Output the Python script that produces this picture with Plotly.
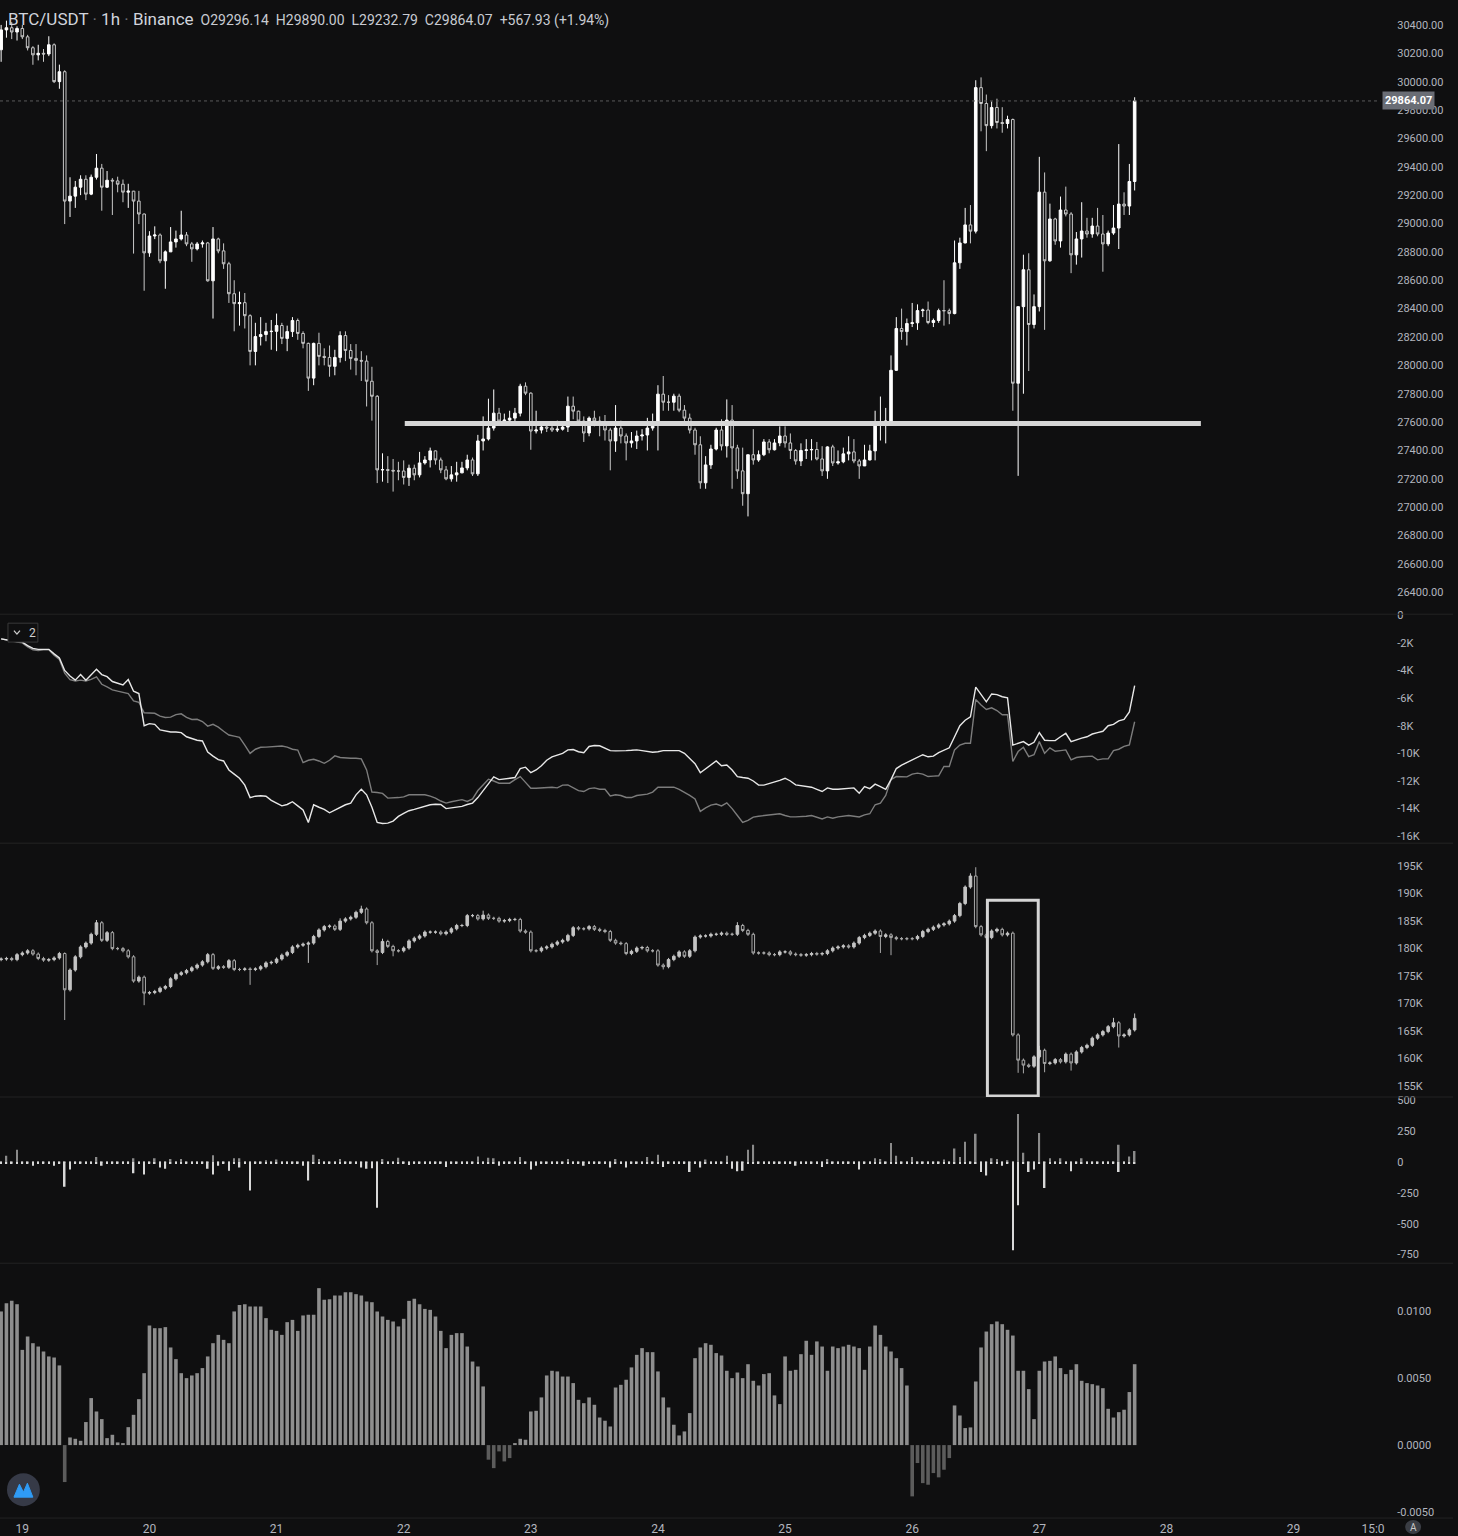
import pandas as pd
import plotly.graph_objects as go

# ---------------- data (hourly, BTC/USDT Binance, 2023-03-18 20:00 .. 2023-03-27 18:00) ----------------
start_time = "2023-03-18 20:00"
n_candles = 215
first_open = 30225

price_close = [
 30365, 30380, 30350, 30375, 30316, 30239, 30189, 30200, 30195, 30260,
 30000, 30070, 29158, 29193, 29256, 29312, 29207, 29326, 29390, 29256,
 29305, 29300, 29277, 29221, 29228, 29158, 29067, 28793, 28912, 28919,
 28737, 28800, 28870, 28891, 28919, 28856, 28821, 28856, 28863, 28596,
 28891, 28807, 28716, 28505, 28435, 28442, 28350, 28098, 28203, 28217,
 28238, 28240, 28281, 28190, 28238, 28316, 28225, 28155, 27910, 28155,
 28063, 28056, 27993, 28056, 28210, 28105, 28049, 28035, 28030, 27888,
 27782, 27263, 27265, 27260, 27255, 27255, 27210, 27275, 27228, 27312,
 27333, 27397, 27333, 27263, 27200, 27228, 27242, 27277, 27333, 27235,
 27467, 27481, 27558, 27663, 27607, 27614, 27628, 27663, 27853, 27804,
 27537, 27544, 27565, 27558, 27544, 27550, 27565, 27712, 27677, 27607,
 27523, 27628, 27607, 27593, 27544, 27467, 27558, 27502, 27453, 27467,
 27502, 27509, 27558, 27593, 27797, 27740, 27740, 27783, 27684, 27628,
 27544, 27440, 27172, 27298, 27410, 27544, 27432, 27614, 27418, 27256,
 27095, 27370, 27333, 27370, 27460, 27405, 27453, 27502, 27453, 27400,
 27326, 27400, 27404, 27407, 27340, 27256, 27425, 27312, 27320, 27376,
 27390, 27326, 27291, 27333, 27397, 27593, 27600, 27607, 27965, 28260,
 28238, 28295, 28300, 28386, 28390, 28302, 28316, 28386, 28385, 28365,
 28723, 28863, 28990, 28946, 29958, 29846, 29690, 29818, 29712, 29705,
 29733, 27874, 28414, 28674, 28288, 28414, 29221, 28737, 29032, 28877,
 29095, 29067, 28779, 28891, 28947, 28926, 28982, 28926, 28856, 28933,
 28968, 29137, 29123, 29296.14, 29864.07]

price_high = [
 30400, 30430, 30420, 30390, 30400, 30330, 30250, 30260, 30230, 30320,
 30270, 30120, 30080, 29326, 29300, 29340, 29340, 29345, 29490, 29420,
 29370, 29320, 29330, 29310, 29280, 29230, 29230, 29070, 28946, 28980,
 28930, 28810, 28975, 28950, 29090, 28940, 28870, 28870, 28880, 28870,
 28975, 28900, 28860, 28730, 28600, 28520, 28510, 28360, 28300, 28340,
 28300, 28320, 28365, 28300, 28280, 28340, 28330, 28240, 28160, 28160,
 28230, 28120, 28140, 28110, 28240, 28240, 28150, 28150, 28100, 28070,
 27990, 27790, 27380, 27360, 27340, 27320, 27330, 27300, 27300, 27390,
 27360, 27420, 27400, 27350, 27290, 27290, 27320, 27320, 27370, 27350,
 27510, 27640, 27765, 27830, 27700, 27660, 27680, 27700, 27870, 27880,
 27810, 27680, 27600, 27600, 27600, 27610, 27600, 27780, 27780, 27680,
 27640, 27640, 27680, 27640, 27650, 27560, 27720, 27610, 27520, 27530,
 27540, 27550, 27630, 27660, 27860, 27925, 27790, 27800, 27800, 27720,
 27660, 27560, 27500, 27360, 27440, 27560, 27620, 27760, 27720, 27440,
 27420, 27370, 27550, 27400, 27480, 27480, 27480, 27570, 27570, 27520,
 27410, 27450, 27480, 27480, 27460, 27430, 27430, 27440, 27400, 27420,
 27500, 27480, 27340, 27440, 27440, 27680, 27780, 27700, 28070, 28340,
 28400, 28330, 28440, 28430, 28400, 28450, 28330, 28400, 28600, 28400,
 28880, 28900, 29110, 29130, 30010, 30030, 29909, 29860, 29880, 29820,
 29760, 29740, 28414, 28780, 28790, 28500, 29470, 29360, 29140, 29040,
 29190, 29260, 29080, 28940, 29150, 29040, 29040, 29110, 29060, 28950,
 29130, 29560, 29220, 29420, 29890]

price_low = [
 30140, 30310, 30300, 30290, 30300, 30220, 30119, 30150, 30140, 30180,
 29990, 29950, 28996, 29046, 29110, 29200, 29165, 29200, 29310, 29090,
 29250, 29060, 29220, 29150, 29110, 28788, 28996, 28526, 28765, 28890,
 28720, 28540, 28800, 28830, 28880, 28840, 28730, 28810, 28830, 28590,
 28330, 28790, 28680, 28440, 28240, 28280, 28260, 28000, 28000, 28140,
 28170, 28110, 28100, 28150, 28100, 28200, 28180, 28120, 27820, 27860,
 28000, 28000, 27920, 27930, 28020, 28030, 27970, 27930, 27890, 27710,
 27610, 27170, 27180, 27170, 27110, 27190, 27160, 27150, 27190, 27210,
 27300, 27280, 27300, 27240, 27190, 27180, 27180, 27240, 27260, 27220,
 27220, 27400, 27470, 27540, 27580, 27580, 27600, 27580, 27640, 27790,
 27405, 27520, 27520, 27530, 27530, 27530, 27540, 27530, 27620, 27590,
 27460, 27500, 27570, 27500, 27470, 27260, 27390, 27450, 27330, 27420,
 27410, 27470, 27400, 27540, 27400, 27680, 27680, 27680, 27670, 27600,
 27520, 27370, 27130, 27130, 27270, 27400, 27400, 27350, 27130, 27200,
 27010, 26935, 27300, 27320, 27360, 27380, 27400, 27430, 27420, 27340,
 27300, 27290, 27340, 27330, 27330, 27220, 27200, 27290, 27300, 27310,
 27330, 27310, 27200, 27290, 27330, 27330, 27470, 27450, 27590, 27960,
 28180, 28140, 28270, 28250, 28340, 28290, 28270, 28300, 28280, 28290,
 28360, 28680, 28860, 28860, 28930, 29650, 29510, 29670, 29670, 29640,
 29670, 27680, 27221, 27800, 27960, 28260, 28380, 28250, 28730, 28850,
 28830, 29050, 28650, 28710, 28760, 28900, 28900, 28910, 28660, 28840,
 28920, 28820, 29060, 29060, 29232.79]

# cumulative volume delta, thousands (two venues)
cvd_white_k = [
 -1.71, -1.8, -1.85, -1.9, -1.95, -2.2, -2.4, -2.47, -2.47, -2.47,
 -2.8, -3.1, -4.0, -4.4, -4.7, -4.3, -4.7, -4.3, -3.92, -4.3,
 -4.45, -4.8, -4.9, -5.05, -4.66, -5.5, -5.67, -8.0, -7.85, -7.9,
 -8.3, -8.4, -8.45, -8.45, -8.5, -8.8, -8.95, -9.05, -9.1, -9.9,
 -10.2, -10.45, -10.55, -11.2, -11.5, -11.8, -12.3, -13.2, -13.1, -13.07,
 -13.1, -13.4, -13.6, -13.8, -13.7, -13.5, -13.8, -14.1, -15.0, -13.72,
 -13.9, -14.05, -14.3, -14.1, -13.9, -13.72, -13.6, -13.0, -12.6, -13.0,
 -13.9, -15.0, -15.08, -15.05, -14.9, -14.56, -14.35, -14.15, -14.05, -13.95,
 -13.85, -13.72, -13.68, -13.7, -14.0, -13.95, -13.9, -13.84, -13.7, -13.6,
 -13.2, -12.7, -12.2, -11.7, -11.9, -11.85, -11.8, -11.75, -11.1, -11.0,
 -11.4, -11.2, -10.9, -10.5, -10.25, -10.15, -10.0, -9.75, -9.72, -9.88,
 -9.95, -9.5, -9.43, -9.45, -9.6, -9.8, -9.82, -9.83, -9.8, -9.78,
 -9.75, -9.8, -9.85, -9.92, -9.88, -9.8, -9.8, -9.82, -9.8, -10.0,
 -10.4, -10.75, -11.4, -11.1, -10.8, -10.55, -10.9, -10.85, -11.2, -11.68,
 -11.75, -11.8, -12.0, -12.3, -12.3, -12.2, -12.1, -11.95, -11.8, -12.0,
 -12.28, -12.35, -12.4, -12.45, -12.6, -12.76, -12.5, -12.6, -12.6, -12.55,
 -12.5, -12.5, -12.88, -12.4, -12.55, -12.23, -12.4, -12.6, -11.9, -11.1,
 -10.85, -10.65, -10.5, -10.3, -10.1, -10.25, -10.2, -9.95, -9.75, -9.6,
 -8.8, -8.0, -7.6, -7.35, -5.2, -5.7, -6.27, -5.7, -5.75, -5.9,
 -5.98, -9.4, -9.3, -9.15, -9.4, -9.2, -8.5, -9.05, -9.08, -9.08,
 -8.8, -8.55, -9.15, -9.0, -8.9, -8.8, -8.6, -8.5, -8.4, -8.0,
 -7.9, -7.65, -7.55, -7.0, -5.1]

cvd_gray_k = [
 -1.71, -1.8, -1.9, -1.95, -2.0, -2.3, -2.5, -2.55, -2.5, -2.5,
 -2.9, -3.2, -4.2, -4.66, -4.76, -4.7, -4.76, -4.65, -4.47, -5.0,
 -5.19, -5.4, -5.5, -5.6, -5.67, -6.2, -6.3, -7.06, -7.08, -7.1,
 -7.3, -7.4, -7.38, -7.2, -7.14, -7.4, -7.55, -7.53, -7.7, -8.03,
 -7.9, -8.1, -8.4, -8.67, -8.75, -8.84, -9.4, -10.0, -9.7, -9.56,
 -9.55, -9.52, -9.5, -9.47, -9.55, -9.7, -9.76, -10.67, -10.5, -10.43,
 -10.55, -10.72, -10.5, -10.18, -10.3, -10.35, -10.35, -10.35, -10.4, -11.2,
 -12.8, -12.83, -12.9, -13.24, -13.24, -13.2, -13.15, -13.0, -13.0, -13.0,
 -13.0, -13.1, -13.24, -13.45, -13.6, -13.5, -13.4, -13.35, -13.48, -13.3,
 -12.69, -12.3, -11.87, -12.0, -12.16, -12.16, -12.16, -11.9, -11.68, -12.1,
 -12.52, -12.52, -12.5, -12.45, -12.45, -12.5, -12.3, -12.28, -12.5, -12.7,
 -12.76, -12.55, -12.5, -12.6, -12.6, -13.09, -13.0, -13.05, -13.19, -13.2,
 -13.05, -13.0, -12.95, -12.8, -12.45, -12.45, -12.45, -12.45, -12.6, -12.8,
 -13.04, -13.3, -14.2, -13.95, -13.75, -13.67, -13.8, -13.58, -14.0, -14.5,
 -15.0, -14.85, -14.61, -14.55, -14.5, -14.45, -14.4, -14.37, -14.5, -14.6,
 -14.6, -14.6, -14.55, -14.5, -14.6, -14.75, -14.6, -14.7, -14.6, -14.55,
 -14.5, -14.55, -14.6, -14.45, -14.37, -13.72, -13.6, -13.04, -11.9, -11.68,
 -11.68, -11.7, -11.5, -11.43, -11.5, -11.68, -11.65, -11.62, -10.95, -10.95,
 -9.75, -9.4, -9.27, -9.27, -6.1, -6.5, -6.82, -6.7, -6.9, -7.2,
 -7.2, -10.59, -9.87, -9.56, -10.23, -10.1, -9.15, -9.99, -9.6, -9.85,
 -9.8, -9.75, -10.47, -10.3, -10.25, -10.2, -10.2, -10.47, -10.4, -10.4,
 -9.8, -9.7, -9.5, -9.39, -7.71]

# open interest, thousands
oi_first_open = 178.0
oi_close_k = [
 178.1, 178.2, 178.0, 178.9, 179.2, 179.6, 179.0, 178.2, 177.9, 178.0,
 178.3, 179.1, 172.5, 176.1, 178.5, 180.3, 181.0, 182.6, 184.7, 181.5,
 182.9, 180.0, 180.0, 179.6, 178.5, 174.1, 174.8, 171.9, 172.0, 172.2,
 172.8, 173.1, 174.5, 175.3, 175.6, 176.0, 176.5, 177.0, 177.6, 178.9,
 176.4, 176.7, 176.6, 177.8, 176.2, 176.2, 176.3, 176.2, 176.3, 176.7,
 177.4, 177.5, 178.1, 178.8, 179.3, 180.3, 180.6, 180.8, 181.0, 182.2,
 183.4, 184.0, 184.1, 183.5, 185.0, 185.4, 185.7, 186.6, 187.2, 184.7,
 179.6, 179.3, 181.3, 180.4, 179.6, 179.6, 180.1, 181.4, 181.9, 182.3,
 183.0, 183.0, 183.0, 182.7, 183.0, 183.6, 184.2, 184.2, 186.0, 186.0,
 185.4, 186.1, 185.5, 185.5, 185.0, 185.1, 185.3, 185.3, 183.2, 183.0,
 179.6, 179.6, 180.1, 180.3, 180.8, 181.2, 181.5, 182.4, 183.8, 183.6,
 183.6, 184.0, 183.5, 183.3, 183.1, 181.5, 181.0, 180.9, 179.1, 179.5,
 180.1, 180.2, 179.6, 179.6, 177.0, 176.7, 178.0, 178.6, 179.4, 178.6,
 179.6, 182.1, 182.3, 182.3, 182.6, 182.6, 182.8, 182.6, 182.6, 184.2,
 183.3, 182.6, 179.2, 179.2, 179.2, 178.9, 178.9, 179.4, 179.4, 179.0,
 178.9, 178.8, 178.9, 179.1, 179.0, 179.1, 179.6, 180.1, 180.3, 180.5,
 180.3, 181.0, 182.0, 182.4, 182.8, 183.2, 182.2, 182.5, 182.0, 181.8,
 181.8, 181.8, 181.8, 182.2, 183.1, 183.5, 183.9, 184.3, 184.5, 185.0,
 186.0, 188.2, 191.2, 193.2, 184.0, 182.5, 182.0, 183.2, 183.5, 182.5,
 182.8, 164.3, 159.7, 158.8, 158.6, 160.3, 161.5, 159.1, 159.2, 159.8,
 159.4, 160.8, 159.2, 161.2, 162.0, 162.4, 163.7, 164.3, 164.9, 165.8,
 166.5, 164.1, 164.3, 165.2, 167.3]

oi_wick_up_k = [
 0.3, 0.3, 0.3, 0.3, 0.3, 0.3, 0.3, 0.3, 0.3, 0.3,
 0.3, 0.3, 0.2, 0.3, 0.3, 0.3, 0.3, 0.3, 0.5, 0.3,
 0.3, 0.3, 0.3, 0.3, 0.3, 0.3, 0.3, 0.3, 0.3, 0.3,
 0.3, 0.3, 0.3, 0.3, 0.3, 0.3, 0.3, 0.3, 0.3, 0.3,
 0.3, 0.3, 0.3, 0.3, 0.3, 0.3, 0.3, 0.3, 0.3, 0.3,
 0.3, 0.3, 0.3, 0.3, 0.3, 0.3, 0.3, 0.3, 0.3, 0.3,
 0.3, 0.3, 0.3, 0.3, 0.5, 0.3, 0.3, 0.3, 0.6, 0.3,
 0.3, 0.3, 0.5, 0.3, 0.3, 0.3, 0.3, 0.3, 0.3, 0.3,
 0.3, 0.3, 0.3, 0.3, 0.3, 0.3, 0.3, 0.3, 0.3, 0.3,
 0.3, 0.8, 0.3, 0.3, 0.3, 0.3, 0.3, 0.3, 0.3, 0.3,
 0.3, 0.3, 0.3, 0.3, 0.3, 0.3, 0.3, 0.3, 0.3, 0.3,
 0.3, 0.3, 0.3, 0.3, 0.3, 0.3, 0.3, 0.3, 0.3, 0.3,
 0.3, 0.3, 0.3, 0.3, 0.3, 0.3, 0.3, 0.3, 0.3, 0.3,
 0.3, 0.3, 0.3, 0.3, 0.3, 0.3, 0.3, 0.3, 0.3, 0.6,
 0.3, 0.3, 0.3, 0.3, 0.3, 0.3, 0.3, 0.3, 0.3, 0.3,
 0.3, 0.3, 0.3, 0.3, 0.3, 0.3, 0.3, 0.3, 0.3, 0.3,
 0.3, 0.3, 0.3, 0.3, 0.3, 0.3, 0.3, 0.3, 0.3, 0.3,
 0.3, 0.3, 0.3, 0.3, 0.3, 0.3, 0.3, 0.3, 0.3, 0.3,
 0.3, 0.3, 0.3, 0.5, 1.6, 0.3, 0.3, 0.3, 0.3, 0.3,
 0.3, 0.3, 0.3, 0.3, 0.3, 0.3, 0.8, 0.3, 0.3, 0.3,
 0.3, 0.3, 0.3, 0.3, 0.3, 0.3, 0.3, 0.3, 0.3, 0.3,
 0.9, 0.3, 0.3, 0.3, 0.9]

oi_wick_dn_k = [
 0.3, 0.3, 0.3, 0.3, 0.3, 0.3, 0.3, 0.3, 0.3, 0.3,
 0.3, 0.3, 5.5, 0.3, 0.3, 0.3, 0.3, 0.3, 0.3, 0.3,
 0.3, 0.3, 0.3, 0.3, 0.3, 0.3, 0.3, 2.2, 0.3, 0.3,
 0.3, 0.3, 0.3, 0.3, 0.3, 0.3, 0.3, 0.3, 0.3, 0.3,
 0.3, 0.3, 0.3, 0.3, 0.3, 0.3, 0.3, 2.8, 0.3, 0.3,
 0.3, 0.3, 0.3, 0.3, 0.3, 0.3, 0.3, 0.3, 3.4, 0.3,
 0.3, 0.3, 0.3, 0.3, 0.3, 0.3, 0.3, 0.3, 0.3, 0.3,
 0.3, 2.3, 0.3, 0.3, 1.0, 0.3, 0.3, 0.3, 0.3, 0.3,
 0.3, 0.3, 0.3, 0.3, 0.3, 0.3, 0.3, 0.3, 0.3, 0.3,
 0.3, 0.3, 0.3, 0.3, 0.3, 0.3, 0.3, 0.3, 0.3, 0.3,
 0.3, 0.3, 0.3, 0.3, 0.3, 0.3, 0.3, 0.3, 0.3, 0.3,
 0.3, 0.3, 0.3, 0.3, 0.3, 0.3, 0.3, 0.3, 0.3, 0.3,
 0.3, 0.3, 0.3, 0.3, 0.3, 0.5, 0.3, 0.3, 0.3, 0.3,
 0.3, 0.3, 0.3, 0.3, 0.3, 0.3, 0.3, 0.3, 0.3, 0.3,
 0.3, 0.3, 0.3, 0.3, 0.3, 0.3, 0.3, 0.3, 0.3, 0.3,
 0.3, 0.3, 0.3, 0.3, 0.3, 0.3, 0.3, 0.3, 0.3, 0.3,
 0.3, 0.3, 0.3, 0.3, 0.3, 0.3, 3.0, 0.3, 3.2, 0.3,
 0.3, 0.3, 0.3, 0.3, 0.3, 0.3, 0.3, 0.3, 0.3, 0.3,
 0.3, 0.3, 0.3, 0.3, 0.3, 0.3, 0.3, 0.3, 0.3, 0.3,
 0.3, 0.3, 2.3, 1.5, 0.3, 0.3, 0.3, 1.6, 0.3, 0.3,
 0.3, 0.3, 1.4, 0.3, 0.3, 0.3, 0.3, 0.3, 0.3, 0.3,
 0.3, 2.1, 0.3, 0.3, 0.3]

# liquidations (shorts up, longs down)
liq_short = [
 8, 50, 8, 100, 8, 8, 8, 8, 8, 8,
 8, 8, 8, 8, 8, 8, 8, 8, 40, 8,
 8, 8, 8, 8, 8, 30, 8, 8, 8, 30,
 8, 8, 25, 8, 25, 8, 8, 8, 8, 8,
 55, 8, 8, 8, 30, 30, 8, 8, 8, 8,
 15, 8, 20, 8, 8, 8, 8, 8, 8, 60,
 25, 8, 8, 8, 25, 8, 8, 8, 8, 8,
 8, 8, 25, 8, 8, 35, 8, 8, 8, 8,
 8, 8, 8, 8, 8, 8, 8, 8, 8, 8,
 45, 8, 35, 30, 8, 8, 8, 8, 40, 8,
 8, 8, 8, 8, 8, 8, 8, 25, 8, 8,
 8, 8, 8, 8, 8, 8, 25, 8, 8, 8,
 8, 8, 40, 8, 60, 8, 8, 8, 8, 8,
 8, 8, 8, 20, 8, 8, 8, 50, 8, 8,
 8, 100, 140, 8, 8, 8, 8, 8, 8, 8,
 8, 8, 8, 8, 8, 8, 25, 8, 8, 8,
 8, 8, 8, 8, 8, 30, 25, 8, 155, 50,
 8, 8, 40, 8, 8, 8, 8, 8, 20, 8,
 110, 40, 165, 8, 230, 8, 8, 30, 25, 8,
 15, 8, 390, 75, 8, 8, 235, 8, 30, 8,
 30, 8, 8, 8, 30, 8, 8, 8, 8, 8,
 8, 140, 8, 45, 90]

liq_long = [
 8, 8, 8, 8, 8, 8, 30, 8, 8, 8,
 30, 8, 200, 60, 8, 8, 8, 8, 8, 30,
 8, 8, 8, 8, 8, 90, 8, 100, 8, 8,
 45, 55, 8, 8, 8, 8, 8, 8, 8, 55,
 100, 30, 8, 70, 8, 45, 8, 230, 8, 8,
 8, 8, 8, 8, 8, 8, 8, 30, 150, 8,
 8, 8, 8, 8, 8, 8, 8, 8, 45, 55,
 50, 370, 8, 8, 8, 8, 8, 25, 8, 8,
 8, 8, 8, 8, 40, 8, 8, 8, 8, 8,
 8, 8, 8, 8, 30, 8, 8, 8, 8, 8,
 60, 30, 8, 8, 8, 8, 8, 8, 8, 8,
 30, 8, 8, 8, 8, 45, 8, 8, 45, 8,
 8, 8, 8, 8, 8, 40, 8, 8, 8, 8,
 80, 8, 45, 8, 8, 8, 8, 8, 55, 75,
 70, 8, 8, 8, 8, 8, 8, 8, 8, 8,
 30, 8, 8, 8, 8, 40, 8, 8, 8, 8,
 8, 8, 60, 8, 8, 8, 8, 8, 8, 8,
 8, 8, 8, 8, 8, 8, 8, 8, 8, 8,
 8, 8, 8, 8, 8, 80, 110, 8, 8, 30,
 8, 715, 350, 8, 80, 60, 8, 210, 8, 8,
 8, 8, 75, 8, 8, 8, 8, 8, 8, 8,
 8, 80, 8, 8, 8]

# funding rate, in units of 0.0001
funding_x1e4 = [
 99.8, 106, 107.7, 105.2, 71.1, 81.1, 76.1, 73.6, 69.9, 66.2,
 65.4, 59.5, -27.6, 5.7, 4.7, 3.2, 17.2, 35.1, 25.1, 19.4,
 5.2, 7.7, 2.0, 1.5, 13.4, 22.6, 34.3, 53.7, 89.3, 87.3,
 87.3, 88.1, 72.9, 64.2, 53.7, 50, 52, 53.7, 57.5, 66.2,
 76.1, 82.3, 78.6, 76.1, 99.8, 104.7, 105.2, 103.5, 103.5, 103.5,
 94.8, 86.1, 85.3, 82.3, 91.8, 93.5, 85.3, 96.8, 97.3, 97.3,
 117.2, 108.5, 109, 111.7, 111.7, 114.2, 114.2, 112.7, 111.7, 107.2,
 106.7, 99.8, 96, 93.5, 92.3, 88.6, 94.3, 107.7, 109.2, 105.2,
 101.7, 101, 96, 85.3, 72.4, 82.3, 83.6, 83.6, 73.6, 62.4,
 58.7, 43.8, -10.9, -17.2, -4.7, -12.2, -9.7, 1.5, 4.7, 4.0,
 25.1, 25.6, 35.6, 52, 55.5, 55, 51.2, 51.2, 46.3, 33.8,
 31.3, 35.6, 30.1, 20.6, 18.2, 13.9, 43, 45, 48.8, 58,
 67.4, 72.4, 69.4, 69.4, 55, 35.6, 28.1, 15.2, 7.2, 10.2,
 23.9, 64.9, 72.9, 76.1, 74.9, 68.7, 66.9, 55.5, 50, 54.2,
 50, 60.4, 48, 44.5, 53, 53.7, 37.1, 30.6, 66.2, 55.5,
 56.2, 67.9, 77.9, 67.4, 77.4, 73.6, 55.5, 73.6, 72.4, 73.6,
 74.9, 73.6, 72.4, 56.2, 73.6, 89.3, 82.3, 73.6, 69.9, 64.9,
 57.5, 44.5, -38.3, -13.4, -28.4, -29.6, -20.9, -24.1, -18.4, -9.7,
 29.6, 22.1, 12.7, 13.2, 47.5, 72.9, 84.8, 90.3, 92.3, 90.3,
 86.1, 81.8, 55.5, 55.5, 41.8, 19.4, 55.5, 62.4, 62.9, 66.2,
 57.5, 53, 56.2, 60.4, 48, 46.3, 45.5, 44.5, 42.5, 27.1,
 20.6, 24.6, 26.4, 39.6, 60.4]

# axis tick labels
price_ticks = list(range(26400, 30401, 200))
cvd_ticks_k = [0, -2, -4, -6, -8, -10, -12, -14, -16]
oi_ticks_k = [155, 160, 165, 170, 175, 180, 185, 190, 195]
liq_ticks = [500, 250, 0, -250, -500, -750]
funding_ticks_x1e4 = [100, 50, 0, -50]
day_ticks = ["2023-03-%02d" % d for d in range(19, 30)] + ["2023-03-29 15:00"]
day_labels = [str(d) for d in range(19, 30)] + ["15:0"]

# annotations drawn on the chart
support_level = 27590
support_from, support_to = "2023-03-22 00:12", "2023-03-28 06:30"
box_from, box_to = "2023-03-26 14:12", "2023-03-26 23:48"
box_low_k, box_high_k = 153.2, 188.8
last_price = 29864.07

series = [price_close, price_high, price_low, cvd_white_k, cvd_gray_k, oi_close_k,
          oi_wick_up_k, oi_wick_dn_k, liq_short, liq_long, funding_x1e4]
for s in series:
    assert len(s) == n_candles, len(s)

# ---------------- derived ----------------
times = pd.date_range(start_time, periods=n_candles, freq="h")
price_open = [first_open] + price_close[:-1]
price_high = [max(h, o, c) for h, o, c in zip(price_high, price_open, price_close)]
price_low = [min(l, o, c) for l, o, c in zip(price_low, price_open, price_close)]
oi_open = [oi_first_open] + oi_close_k[:-1]
oi_high = [max(o, c) + w for o, c, w in zip(oi_open, oi_close_k, oi_wick_up_k)]
oi_low = [min(o, c) - w for o, c, w in zip(oi_open, oi_close_k, oi_wick_dn_k)]
liq_long_neg = [-v for v in liq_long]
fund_colors = ["#8e8e8e" if v >= 0 else "#5c5c5c" for v in funding_x1e4]

# ---------------- layout geometry ----------------
W, H = 1458, 1536
BG = "#0f0f10"
TXT = "#b2b5be"
FONT = "Roboto"
PLOT_R = 1385


def fy(px):
    return 1 - px / H


def fx(px):
    return px / W


x_range = ["2023-03-18 19:47:06", "2023-03-29 16:22:00"]

fig = go.Figure()

fig.add_trace(go.Candlestick(
    x=times, open=price_open, high=price_high, low=price_low, close=price_close,
    increasing=dict(line=dict(color="#ffffff", width=1), fillcolor="#ffffff"),
    decreasing=dict(line=dict(color="#c9c9c9", width=1), fillcolor=BG),
    whiskerwidth=0, showlegend=False, hoverinfo="skip", xaxis="x", yaxis="y"))

fig.add_trace(go.Scatter(x=times, y=cvd_gray_k, mode="lines",
                         line=dict(color="#7c7c7c", width=1.4),
                         showlegend=False, hoverinfo="skip", xaxis="x2", yaxis="y2"))
fig.add_trace(go.Scatter(x=times, y=cvd_white_k, mode="lines",
                         line=dict(color="#e8e8e8", width=1.4),
                         showlegend=False, hoverinfo="skip", xaxis="x2", yaxis="y2"))

fig.add_trace(go.Candlestick(
    x=times, open=oi_open, high=oi_high, low=oi_low, close=oi_close_k,
    increasing=dict(line=dict(color="#c4c4c4", width=1), fillcolor="#c4c4c4"),
    decreasing=dict(line=dict(color="#a9a9a9", width=1), fillcolor=BG),
    whiskerwidth=0, showlegend=False, hoverinfo="skip", xaxis="x3", yaxis="y3"))

bar_w_liq = 0.3 * 3600 * 1000
bar_w_fund = 0.68 * 3600 * 1000
fig.add_trace(go.Bar(x=times, y=liq_short, width=bar_w_liq, marker=dict(color="#8a8a8a", line=dict(width=0)),
                     showlegend=False, hoverinfo="skip", xaxis="x4", yaxis="y4"))
fig.add_trace(go.Bar(x=times, y=liq_long_neg, width=bar_w_liq, marker=dict(color="#d8d8d8", line=dict(width=0)),
                     showlegend=False, hoverinfo="skip", xaxis="x4", yaxis="y4"))

fig.add_trace(go.Bar(x=times, y=funding_x1e4, width=bar_w_fund,
                     marker=dict(color=fund_colors, line=dict(width=0)),
                     showlegend=False, hoverinfo="skip", xaxis="x5", yaxis="y5"))

xcommon = dict(domain=[0, PLOT_R / W], range=x_range, type="date", showgrid=False,
               zeroline=False, showline=False, ticks="", fixedrange=True,
               rangeslider=dict(visible=False))

tickfont = dict(family=FONT, size=11, color=TXT)


def yax(anchor, dom, rng, vals, texts):
    return dict(domain=dom, range=rng, side="right", anchor=anchor, tickvals=vals,
                ticktext=texts, showgrid=False, zeroline=False, showline=False,
                ticks="", tickfont=tickfont, ticklabelstandoff=16, fixedrange=True)


layout = dict(
    width=W, height=H, autosize=False,
    paper_bgcolor=BG, plot_bgcolor=BG,
    margin=dict(l=0, r=0, t=0, b=0),
    barmode="relative", showlegend=False,
    font=dict(family=FONT, color=TXT),
    xaxis=dict(xcommon, anchor="y", showticklabels=False),
    xaxis2=dict(xcommon, anchor="y2", showticklabels=False, matches="x"),
    xaxis3=dict(xcommon, anchor="y3", showticklabels=False, matches="x"),
    xaxis4=dict(xcommon, anchor="y4", showticklabels=False, matches="x"),
    xaxis5=dict(xcommon, anchor="y5", showticklabels=True, matches="x",
                tickvals=day_ticks, ticktext=day_labels, ticklabelstandoff=2,
                tickfont=dict(family=FONT, size=12, color=TXT)),
    yaxis=yax("x", [fy(612), 1], [26245.6, 30540.4], price_ticks,
              ["%.2f" % v for v in price_ticks]),
    yaxis2=yax("x2", [fy(842), fy(612)], [-16.5, 0.072], cvd_ticks_k,
               ["0" if v == 0 else "%dK" % v for v in cvd_ticks_k]),
    yaxis3=yax("x3", [fy(1097), fy(842)], [153.0, 199.18], oi_ticks_k,
               ["%dK" % v for v in oi_ticks_k]),
    yaxis4=yax("x4", [fy(1264), fy(1097)], [-820, 527], liq_ticks,
               [str(v) for v in liq_ticks]),
    yaxis5=yax("x5", [fy(1520), fy(1264)], [-54.5, 135.8], funding_ticks_x1e4,
               ["%.4f" % (v / 1e4) for v in funding_ticks_x1e4]),
)
fig.update_layout(**layout)

shapes = []
for py in [612, 842, 1097, 1264, 1520]:
    shapes.append(dict(type="line", xref="paper", yref="paper", x0=0, x1=1,
                       y0=fy(py), y1=fy(py), line=dict(color="#232323", width=1)))
shapes.append(dict(type="line", xref="paper", yref="y", x0=0, x1=PLOT_R / W,
                   y0=last_price, y1=last_price, line=dict(color="#5a5a5a", width=1, dash="dot")))
shapes.append(dict(type="line", xref="x", yref="y", x0=support_from, x1=support_to,
                   y0=support_level, y1=support_level, line=dict(color="#d6d6d6", width=5)))
shapes.append(dict(type="rect", xref="x3", yref="y3", x0=box_from, x1=box_to,
                   y0=box_low_k, y1=box_high_k, line=dict(color="#d4d4d4", width=3)))
# indicator badge in CVD pane
shapes.append(dict(type="rect", xref="paper", yref="paper", x0=fx(8), x1=fx(38),
                   y0=fy(640), y1=fy(621), line=dict(color="#3a3a3a", width=1), fillcolor=BG))
shapes.append(dict(type="path", xref="paper", yref="paper",
                   path="M %f %f L %f %f L %f %f" % (fx(14), fy(628.5), fx(17), fy(632), fx(20), fy(628.5)),
                   line=dict(color="#cfcfcf", width=1.3)))
# TradingView logo
shapes.append(dict(type="circle", xref="paper", yref="paper", x0=fx(7), x1=fx(40),
                   y0=fy(1508), y1=fy(1475), line=dict(width=0), fillcolor="#363a47"))
pts = [(14, 1499), (19.5, 1486), (23.5, 1494), (27.5, 1485), (33, 1499)]
path = "M " + " L ".join("%f %f" % (fx(a), fy(b)) for a, b in pts) + " Z"
shapes.append(dict(type="path", xref="paper", yref="paper", path=path,
                   line=dict(color="#2f9bf5", width=1), fillcolor="#2f9bf5"))
# auto-scale badge
shapes.append(dict(type="circle", xref="paper", yref="paper", x0=fx(1410), x1=fx(1426),
                   y0=fy(1536), y1=fy(1522), line=dict(width=0), fillcolor="#3a3d44"))
fig.update_layout(shapes=shapes)

annotations = [
    dict(xref="paper", yref="paper", x=fx(6), y=fy(14), xanchor="left", yanchor="middle",
         showarrow=False, align="left",
         text=("<span style='font-size:17px;color:#d1d4dc'>BTC/USDT</span>"
               "<span style='font-size:17px;color:#6b6e75'> · </span>"
               "<span style='font-size:17px;color:#d1d4dc'>1h</span>"
               "<span style='font-size:17px;color:#6b6e75'> · </span>"
               "<span style='font-size:17px;color:#d1d4dc'>Binance</span>"
               "<span style='font-size:14px;color:#c8cbd2'>&nbsp;&nbsp;O29296.14&nbsp;&nbsp;H29890.00&nbsp;&nbsp;"
               "L29232.79&nbsp;&nbsp;C29864.07&nbsp;&nbsp;+567.93 (+1.94%)</span>"),
         font=dict(family=FONT)),
    dict(xref="paper", yref="y", x=fx(1387), y=last_price, xanchor="left", yanchor="middle",
         showarrow=False, text="<b>29864.07</b>", bgcolor="#6a6d75", borderpad=2,
         font=dict(family=FONT, size=11, color="#ffffff")),
    dict(xref="paper", yref="paper", x=fx(27), y=fy(631), xanchor="left", yanchor="middle",
         showarrow=False, text="2", font=dict(family=FONT, size=12, color="#d0d0d0")),
    dict(xref="paper", yref="paper", x=fx(1418), y=fy(1529), xanchor="center", yanchor="middle",
         showarrow=False, text="A", font=dict(family=FONT, size=10, color="#c8c8c8")),
]
fig.update_layout(annotations=annotations)

fig.write_html(
    "out.html",
    config={"displayModeBar": False},
    post_script="document.body.style.margin='0';document.body.style.overflow='hidden';"
                "document.body.style.background='%s';" % BG,
)
